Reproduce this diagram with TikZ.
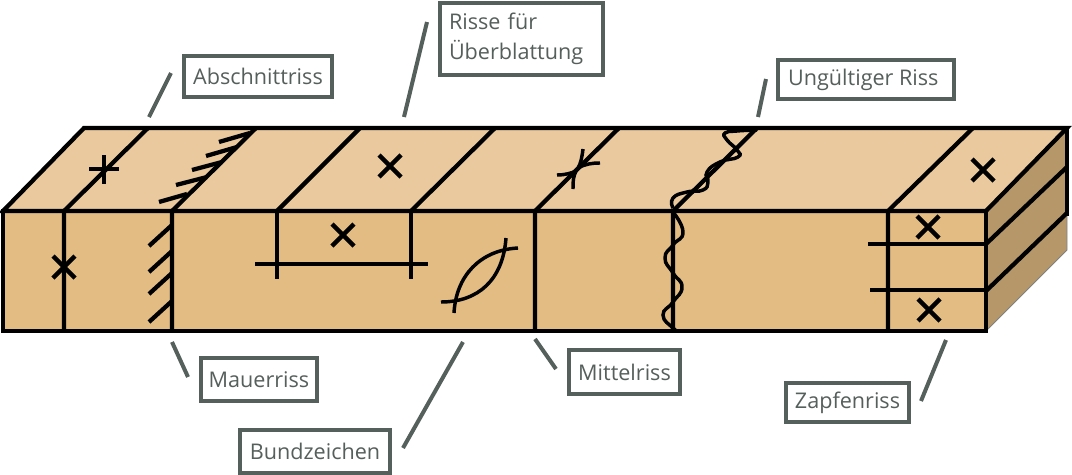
\documentclass[tikz,border=0pt]{standalone}
\usepackage{fontspec}
\setmainfont{Open Sans}
\usetikzlibrary{calc}
\definecolor{topwood}{HTML}{E9C99D}
\definecolor{frontwood}{HTML}{E3BC83}
\definecolor{sidewood}{HTML}{B59769}
\definecolor{leadgray}{HTML}{555F5C}
\tikzset{
  riss/.style={black,line width=3.2pt},
  bogen/.style={black,line width=2.6pt},
  wavy/.style={black,line width=2.6pt},
  leader/.style={leadgray,line width=3pt},
  tag/.style={draw=leadgray,line width=3pt,fill=white,text=leadgray,font=\fontsize{16.2}{22.5}\selectfont,
    inner sep=0pt,anchor=center,align=left},
}
\newcommand{\kreuz}[1]{\draw[riss] ($(#1)+(-11,-11)$) -- ($(#1)+(11,11)$) ($(#1)+(-11,11)$) -- ($(#1)+(11,-11)$);}
\begin{document}
\begin{tikzpicture}[x=0.75pt,y=-0.75pt]
\useasboundingbox (0,0) rectangle (1072,475);
% timber
\fill[sidewood] (986,211) -- (1067,128) -- (1067,250) -- (986,331) -- cycle;
\draw[gray,line width=0.6pt] (986,331) -- (1067,250) -- (1067,215);
\fill[topwood] (3,211) -- (84,128) -- (1067,128) -- (986,211) -- cycle;
\fill[frontwood] (3,211) rectangle (986,331);
\draw[riss,line join=miter] (3,211) -- (84,128) -- (1067,128) -- (986,211) -- cycle;
\draw[riss] (3,211) rectangle (986,331);
\draw[riss] (1067,128) -- (1067,216);
\draw[riss] (986,244) -- (1067,167);
\draw[riss] (986,291) -- (1067,213);
% abschnitt
\draw[riss] (64,211) -- (148,128) (64,211) -- (64,331);
\draw[riss] (89,169) -- (119,169) (104,155) -- (104,184);
\kreuz{64,267}
% mauer
\draw[riss] (172,211) -- (256,128) (172,211) -- (172,331);
\foreach \ya in {225,251,273,301}
  \draw[riss] (172,\ya) -- ++(-23,21);
\draw[riss] (187,194) -- (159,202);
\draw[riss] (207,177) -- (176,185);
\draw[riss] (222,162) -- (192,170);
\draw[riss] (237,147) -- (206,156);
\draw[riss] (250,133) -- (219,142);
% ueberblattung
\draw[riss] (277,211) -- (360,128) (411,211) -- (495,128);
\draw[riss] (277,211) -- (277,279) (411,211) -- (411,279);
\draw[riss] (255,264) -- (428,264);
\kreuz{343,235}
\kreuz{390,166}
% bund
\draw[bogen] (441,302) .. controls (478,302) and (503,280) .. (506,238);
\draw[bogen] (454,313) .. controls (456,276) and (480,250) .. (518,248);
% mittel
\draw[riss] (535,211) -- (619,128) (535,211) -- (535,331);
\draw[bogen] (583,149) .. controls (582,157) and (581,163) .. (578,168);
\draw[bogen] (600,163) .. controls (592,163) and (585,164) .. (578,168);
\draw[bogen] (557,175) .. controls (565,175) and (572,173) .. (576,171);
\draw[bogen] (573,189) .. controls (573,182) and (573,177) .. (576,171);
% ungueltig
\draw[riss] (673,211) -- (757,128) (673,211) -- (673,331);
\draw[wavy] plot[smooth,tension=0.9] coordinates {(673,212) (683,232) (673,245) (665,258) (673,273) (682,287) (673,302) (663,315) (673,328) (678,331)};
\draw[wavy] plot[smooth,tension=0.9] coordinates {(673,208) (673,198) (687,192) (703,190) (708,182) (707,172) (720,162) (738,157) (737,150) (727,140) (725,133) (737,131) (757,130)};
% zapfen
\draw[riss] (888,211) -- (973,128) (888,211) -- (888,331);
\draw[riss] (868,244) -- (986,244) (870,290) -- (986,290);
\kreuz{983,170}
\kreuz{928,227}
\kreuz{929,310}
% labels
\node[tag,minimum width=111pt,minimum height=30.75pt] (abschnitt) at (258,76.5) {Abschnittriss};
\node[tag,minimum width=122.25pt,minimum height=54pt,text width=108.75pt] (blatt) at (521.5,39) {Risse für\\Überblattung};
\node[tag,minimum width=132pt,minimum height=29.25pt] (ungueltig) at (866,79.5) {Ungültiger Riss\kern4pt};
\node[tag,minimum width=87pt,minimum height=32.25pt] (mauer) at (259,379.5) {Mauerriss};
\node[tag,minimum width=112.5pt,minimum height=32.25pt] (bund) at (315,451.5) {Bundzeichen};
\node[tag,minimum width=83.25pt,minimum height=33pt] (mittel) at (624.5,372) {Mittelriss};
\node[tag,minimum width=92.25pt,minimum height=29.25pt] (zapfen) at (847.5,402.5) {Zapfenriss};
% leaders
\coordinate (abschnitt-a) at (171,73); \coordinate (abschnitt-b) at (149,117);
\coordinate (blatt-a) at (427,22); \coordinate (blatt-b) at (404,117);
\coordinate (ungueltig-a) at (766,79); \coordinate (ungueltig-b) at (758,117);
\coordinate (mauer-a) at (172,342); \coordinate (mauer-b) at (188,377);
\coordinate (bund-a) at (463,342); \coordinate (bund-b) at (403,448);
\coordinate (mittel-a) at (535,339); \coordinate (mittel-b) at (556,369);
\coordinate (zapfen-a) at (946,340); \coordinate (zapfen-b) at (921,401);
\foreach \nm in {abschnitt,blatt,ungueltig,mauer,bund,mittel,zapfen}
  \draw[leader] (\nm-a) -- (\nm-b);
\end{tikzpicture}
\end{document}
